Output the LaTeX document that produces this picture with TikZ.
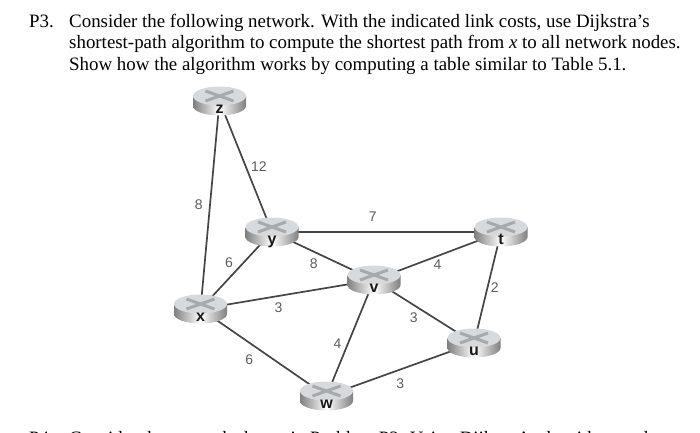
\documentclass[tikz,border=0pt]{standalone}
\usepackage{fontspec}
\setmainfont{Liberation Serif}
\setsansfont{Liberation Sans}
\usepackage{tikz}
\usetikzlibrary{backgrounds}
\definecolor{linkgray}{HTML}{454545}
\definecolor{costgray}{HTML}{5C5C5C}
\definecolor{topgray}{HTML}{D6DADD}
\definecolor{crossgray}{HTML}{A6AAAD}
\newcommand{\routername}[1]{\smash{\raisebox{-12pt}{#1}}}

\begin{document}
\begin{tikzpicture}[x=1pt, y=-1pt, auto=false,
    main node/.style={rectangle, inner sep=0pt, minimum width=53pt, minimum height=29pt,
      font=\sffamily\bfseries\fontsize{16}{16}\selectfont, text=black!90},
    cost/.style={font=\sffamily\fontsize{14}{14}\selectfont, text=costgray, inner sep=2.5pt},
    prob/.style={font=\fontsize{18.9}{18.9}\selectfont, anchor=base west, inner sep=0pt}]
  \useasboundingbox (0,0) rectangle (700,432);

  \node[prob] (p3) at (29,27) {P3.};
  \node[prob] (line1) at (69,27) {Consider the following network. With the indicated link costs, use Dijkstra’s};
  \node[prob] (line2) at (69,48.5) {shortest-path algorithm to compute the shortest path from \textit{x} to all network nodes.};
  \node[prob] (line3) at (69,70) {Show how the algorithm works by computing a table similar to Table 5.1.};
  \node[prob] (p4) at (29,444) {P4.};
  \node[prob] (next) at (69,444) {Consider the network shown in Problem P3. Using Dijkstra’s algorithm, and};

  \node[main node] (z) at (219.5,101) {\routername{z}};
  \node[main node] (y) at (272,232) {\routername{y}};
  \node[main node] (v) at (374,280) {\routername{v}};
  \node[main node] (x) at (200.5,309) {\routername{x}};
  \node[main node] (w) at (326.5,396) {\routername{w}};
  \node[main node] (t) at (501,232) {\routername{t}};
  \node[main node] (u) at (474,343) {\routername{u}};

  \begin{scope}[on background layer]
  \path[draw=linkgray, line width=1.7pt, every node/.style={cost}]
    (z.center) edge node[left=4pt] {8} (x.center)
               edge node[right=2pt] {12} (y.center)
    (y.center) edge node[pos=.44, above=7pt] {7} (t.center)
               edge node[pos=.48, below left] {8} (v.center)
    (x.center) edge node[above left] {6} (y.center)
               edge node[pos=.45, below=3pt] {3} (v.center)
               edge node[pos=.46, below left=2pt] {6} (w.center)
    (v.center) edge node[pos=.55, left=3pt] {4} (w.center)
               edge node[pos=.47, below left] {3} (u.center)
    (t.center) edge node[below=1pt] {4} (v.center)
               edge node[right] {2} (u.center)
    (w.center) edge node[below=6pt] {3} (u.center);

  \foreach \r in {z,y,v,x,w,t,u} {
    \begin{scope}[shift={(\r.center)}]
      \shade[left color=black!50, right color=black!50, middle color=white]
        (-26.5,-5) -- (-26.5,5) arc[start angle=180, end angle=0, x radius=26.5, y radius=9.5]
        -- (26.5,-5) -- cycle;
      \fill[topgray] (0,-5) ellipse[x radius=26.5, y radius=9.5];
      \draw[crossgray, line width=3pt] (-14,-10) -- (14,0) (-14,0) -- (14,-10);
    \end{scope}
  }
  \end{scope}
\end{tikzpicture}
\end{document}
